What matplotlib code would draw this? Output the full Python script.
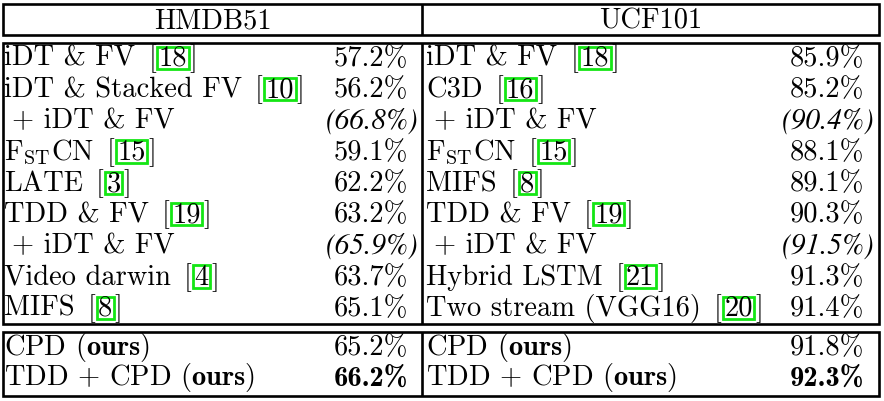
import matplotlib
matplotlib.use("Agg")
import matplotlib.pyplot as plt
from matplotlib.patches import Rectangle

plt.rcParams['mathtext.fontset'] = 'cm'
plt.rcParams['font.family'] = 'cmr10'
plt.rcParams['axes.unicode_minus'] = False

# table content
headers = ["HMDB51", "UCF101"]

hm_methods = ["iDT & FV", "iDT & Stacked FV", "+ iDT & FV", r"F$_{\mathrm{ST}}$CN", "LATE",
              "TDD & FV", "+ iDT & FV", "Video darwin", "MIFS"]
hm_refs = ["18", "10", "", "15", "3", "19", "", "4", "8"]
hm_acc = [57.2, 56.2, 66.8, 59.1, 62.2, 63.2, 65.9, 63.7, 65.1]

ucf_methods = ["iDT & FV", "C3D", "+ iDT & FV", r"F$_{\mathrm{ST}}$CN", "MIFS",
               "TDD & FV", "+ iDT & FV", "Hybrid LSTM", "Two stream (VGG16)"]
ucf_refs = ["18", "16", "", "15", "8", "19", "", "21", "20"]
ucf_acc = [85.9, 85.2, 90.4, 88.1, 89.1, 90.3, 91.5, 91.3, 91.4]

ours_methods = ["CPD", "TDD + CPD"]
ours_hm = [65.2, 66.2]
ours_ucf = [91.8, 92.3]

W, H = 884, 401
FS = 20.5
GREEN = '#14e614'

fig = plt.figure(figsize=(W / 100, H / 100), dpi=100)
ax = fig.add_axes([0, 0, 1, 1])
ax.set_xlim(0, W)
ax.set_ylim(H, 0)
ax.axis("off")
r = fig.canvas.get_renderer()

LW = 1.9
xl, xm, xr = 3, 422, 879
for (y0, y1) in [(4, 35), (43, 324), (332, 396)]:
    ax.add_patch(Rectangle((xl, y0), xr - xl, y1 - y0, fill=False, lw=LW, ec='black'))
    ax.plot([xm, xm], [y0, y1], color='black', lw=LW, solid_capstyle='butt')

ax.text((xl + xm) / 2, 28.5, headers[0], fontsize=FS, ha='center', va='baseline')
ax.text((xm + xr) / 2, 28.5, headers[1], fontsize=FS, ha='center', va='baseline')


def method(x, y, name, ref):
    if name.startswith("+"):
        x += 8
    t = ax.text(x, y, name, fontsize=FS, va='baseline')
    if not ref:
        return
    x = t.get_window_extent(r).x1 + 13
    t = ax.text(x, y, "[", fontsize=FS, va='baseline')
    x = t.get_window_extent(r).x1 + 2.5
    t = ax.text(x, y, ref, fontsize=FS, va='baseline')
    bb = t.get_window_extent(r)
    ax.add_patch(Rectangle((bb.x0 - 1.5, y - 19.5), bb.width + 3, 22.5,
                           fill=False, ec=GREEN, lw=2))
    ax.text(bb.x1 + 2.5, y, "]", fontsize=FS, va='baseline')


def value(x, y, v, paren=False, bold=False):
    if paren:
        ax.text(x + 10, y, "(%.1f%%)" % v, family='STIXGeneral', style='italic',
                weight='normal', fontsize=FS + 0.5, ha='right', va='baseline')
    else:
        ax.text(x, y, "%.1f%%" % v, family='cmb10' if bold else 'cmr10',
                fontsize=FS, ha='right', va='baseline')


for i in range(len(hm_methods)):
    y = 66 + i * 31.25
    method(4, y, hm_methods[i], hm_refs[i])
    value(408, y, hm_acc[i], paren=hm_methods[i].startswith("+"))
for i in range(len(ucf_methods)):
    y = 66 + i * 31.25
    method(426, y, ucf_methods[i], ucf_refs[i])
    value(864, y, ucf_acc[i], paren=ucf_methods[i].startswith("+"))

best = 1
for i in range(len(ours_methods)):
    y = 355 + i * 30.5
    ax.text(4, y, ours_methods[i] + r" ($\mathbf{ours}$)", fontsize=FS, va='baseline')
    ax.text(426, y, ours_methods[i] + r" ($\mathbf{ours}$)", fontsize=FS, va='baseline')
    value(408, y, ours_hm[i], bold=(i == best))
    value(864, y, ours_ucf[i], bold=(i == best))

fig.savefig("out.png", dpi=100)
